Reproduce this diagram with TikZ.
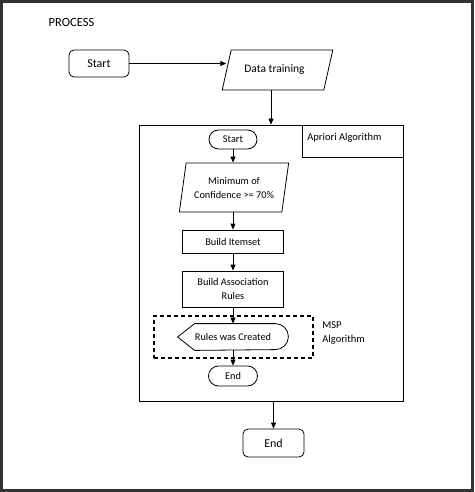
\documentclass[tikz,border=0pt]{standalone}
\usepackage{fontspec}
\setmainfont{Carlito}
\usetikzlibrary{arrows.meta,shapes.geometric}
\begin{document}
\begin{tikzpicture}[x=1pt,y=-1pt,line width=0.8pt,
  arr/.style={-{Triangle[length=6pt,width=5pt]}},
  big/.style={font=\fontsize{12}{14}\selectfont},
  small/.style={font=\fontsize{10.3}{14}\selectfont},
  box/.style={draw,inner sep=0pt,align=center,small},
  para/.style={draw,trapezium,trapezium stretches=true,inner sep=0pt,align=center}]
\useasboundingbox (0,0) rectangle (474,492);
\draw[line width=3pt,black!80] (1.5,1.5) rectangle (472.5,490.5);
\node[font=\fontsize{12.5}{14}\selectfont,anchor=west] (proc) at (45,22) {PROCESS};
\node[draw,big,rounded corners=5pt,minimum width=60,minimum height=27,inner sep=0pt] (start) at (99,63.5) {Start};
\node[para,font=\fontsize{11.5}{14}\selectfont,trapezium left angle=62,trapezium right angle=118,minimum width=111,minimum height=40] (dt) at (277.5,70) {\hspace*{-6pt}Data training};
\node[draw,minimum width=264,minimum height=276,inner sep=0pt] (apr) at (271,263) {};
\node[draw,minimum width=101,minimum height=32,inner sep=0pt,anchor=north east] (aprbox) at (apr.north east) {};
\node[font=\fontsize{10.5}{13}\selectfont,anchor=west,inner sep=0pt] (aprtext) at (307,138) {Apriori Algorithm};
\node[box,rounded corners=9.5pt,minimum width=48,minimum height=19] (istart) at (233,139.5) {Start};
\node[para,small,trapezium left angle=75,trapezium right angle=105,minimum width=110,minimum height=49] (conf) at (234,187.5) {Minimum of\\Confidence >= 70\%};
\node[box,minimum width=101,minimum height=23] (items) at (233,241.5) {Build Itemset};
\node[box,minimum width=101,minimum height=36] (assoc) at (233,289) {Build Association\\Rules};
\node[draw,dash pattern=on 4pt off 3pt,line width=1.3pt,minimum width=159,minimum height=42,inner sep=0pt] (msp) at (233.5,337) {};
\node[small,inner sep=0pt,minimum width=110,minimum height=26] (rules) at (233,337) {Rules was Created};
\draw (rules.west) -- ([xshift=17pt]rules.north west) -- ([xshift=-13pt]rules.north east)
  arc[start angle=-90,end angle=90,radius=13] -- ([xshift=17pt]rules.south west) -- cycle;
\node[font=\fontsize{10.5}{14}\selectfont,align=left,anchor=west,inner sep=0pt] (msptext) at (322,333) {MSP\\Algorithm};
\node[box,rounded corners=10pt,minimum width=49,minimum height=20] (iend) at (233,376) {End};
\node[draw,big,rounded corners=5pt,minimum width=61,minimum height=28,inner sep=0pt] (end) at (273.5,443) {End};
\draw[arr] (start.east) -- (start.east -| dt.west);
\draw[arr] (apr.north |- dt.south) -- (apr.north);
\draw[arr] (istart.south) -- (istart.south |- conf.north);
\draw[arr] (conf.south -| items.north) -- (items.north);
\draw[arr] (items.south) -- (assoc.north);
\draw[arr] (assoc.south) -- (rules.north);
\draw[arr] (rules.south) -- (iend.north);
\draw[arr] (end.north |- apr.south) -- (end.north);
\end{tikzpicture}
\end{document}
